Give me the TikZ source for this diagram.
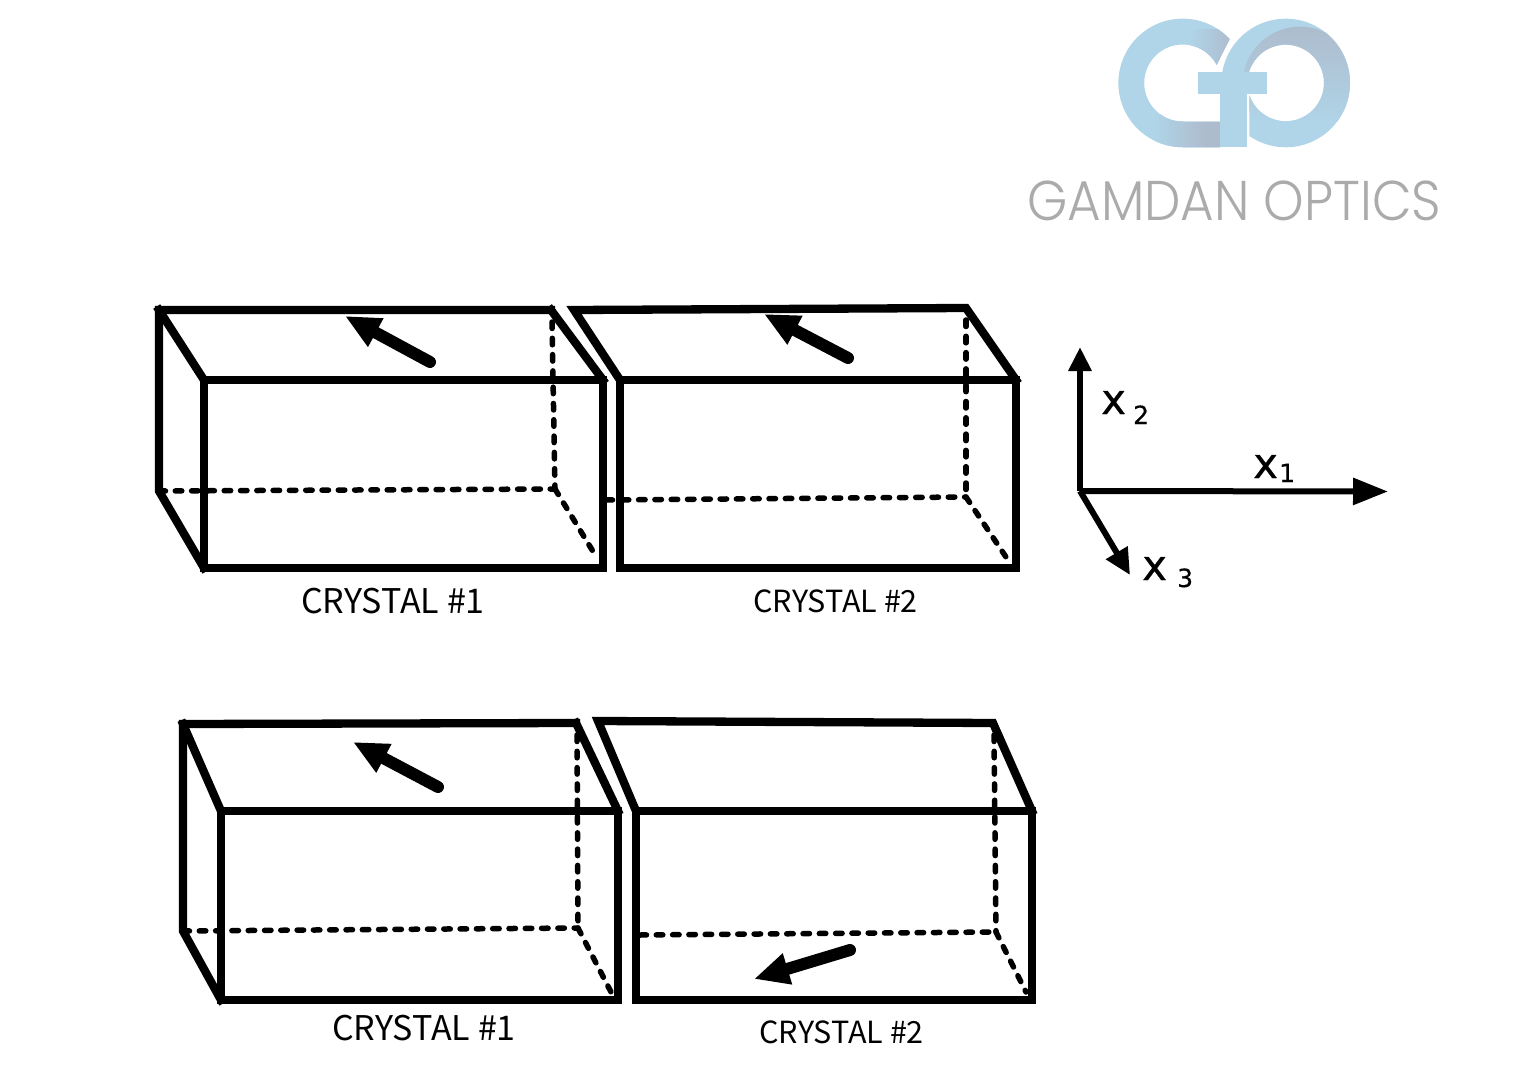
\documentclass[tikz,border=0pt]{standalone}
\usepackage{fontspec}
\usetikzlibrary{arrows.meta}
\setmainfont{Noto Sans CJK SC}
\newfontfamily\logofont[UprightFont=* Light]{Poppins}
\newfontfamily\axisfont[FakeBold=0.5]{DejaVu Sans}
\definecolor{logoblue}{HTML}{B0D4E8}
\definecolor{logogrey}{HTML}{ADBCCD}
\definecolor{logotext}{HTML}{ABABAB}
\tikzset{
  solidedge/.style={line width=8.3pt,line join=miter,line cap=rect},
  hiddenedge/.style={line width=5.5pt,line cap=round,dash pattern=on 6.5pt off 9.8pt},
  polar/.style={line width=12pt,line cap=round,-{Triangle[length=35pt,width=30pt]}},
  axisline/.style={line width=6pt},
  lbl/.style={anchor=base west,inner sep=0pt,text=black},
  bigl/.style={lbl,font=\fontsize{34}{34}\selectfont},
  smalll/.style={lbl,font=\fontsize{30.5}{30.5}\selectfont},
  axl/.style={lbl,font=\axisfont\fontsize{42}{42}\selectfont},
  axs/.style={lbl,font=\axisfont\fontsize{25}{25}\selectfont},
}
\begin{document}
\begin{tikzpicture}[x=1pt,y=-1pt]
\useasboundingbox[fill=white] (0,0) rectangle (1521,1075);

% logo
\def\ringL{(1229.7,39.1) arc[start angle=43,end angle=270,radius=64.3pt] -- (1220,147.3) -- (1220,121.7) -- (1182.7,121.5) arc[start angle=270,end angle=28,radius=38.5pt] -- cycle}
\def\ringR{(1221.4,83) arc[start angle=180,end angle=-124.4,radius=64.3pt] -- (1249.4,95.2) arc[start angle=-161.4,end angle=180,radius=38.3pt] -- cycle}
\fill[logoblue] \ringL;
\begin{scope}
  \clip \ringL;
  \shade[left color=logoblue,right color=logogrey] (1155,115) rectangle (1205,150);
  \fill[logogrey] (1205,115) rectangle (1222,150);
  \shade[left color=logoblue,right color=logogrey] (1190,30) rectangle (1232,70);
\end{scope}
\fill[logoblue] \ringR;
\begin{scope}
  \clip \ringR;
  \clip (1300,84) circle[radius=57.3pt];
  \shade[top color=logogrey,bottom color=logoblue] (1230,27) rectangle (1355,122);
\end{scope}
\fill[logoblue] (1220,83) rectangle (1246.7,147);
\fill[logoblue] (1197.7,72.3) rectangle (1266.7,94.3);
\node[anchor=base west,inner sep=0pt,text=logotext,font=\logofont\fontsize{56}{56}\selectfont] (logotext) at (1027,221) {\scalebox{0.92}[1]{GAMDAN OPTICS}};

% upper crystal 1
\coordinate (a1) at (204,380); \coordinate (a2) at (603,380);
\coordinate (a3) at (603,568); \coordinate (a4) at (204,568);
\coordinate (a5) at (159,310); \coordinate (a6) at (551,310);
\coordinate (a7) at (159,491); \coordinate (a8) at (555,489);
\coordinate (a6d) at (552,322); \coordinate (a3d) at (597,558);
\draw[hiddenedge] (a7) -- (a8);
\draw[hiddenedge] (a6d) -- (a8);
\draw[hiddenedge] (a8) -- (a3d);
\draw[solidedge] (a1) -- (a2) -- (a3) -- (a4) -- cycle;
\draw[solidedge] (a6) -- (a5) -- (a7) -- (a4);
\draw[solidedge] (a5) -- (a1);
\draw[solidedge] (a6) -- (a2);

% upper crystal 2
\coordinate (b1) at (620,380); \coordinate (b2) at (1016,380);
\coordinate (b3) at (1016,568); \coordinate (b4) at (620,568);
\coordinate (b5) at (574,310); \coordinate (b6) at (966,308);
\coordinate (b7) at (606,500); \coordinate (b8) at (966,497);
\coordinate (b6d) at (966,320); \coordinate (b3d) at (1008,560);
\draw[hiddenedge] (b7) -- (b8);
\draw[hiddenedge] (b6d) -- (b8);
\draw[hiddenedge] (b8) -- (b3d);
\draw[solidedge] (b1) -- (b2) -- (b3) -- (b4) -- cycle;
\draw[solidedge] (b1) -- (b5) -- (b6) -- (b2);

% lower crystal 1
\coordinate (c1) at (221,811); \coordinate (c2) at (618,811);
\coordinate (c3) at (618,1000); \coordinate (c4) at (221,1000);
\coordinate (c5) at (183,724); \coordinate (c6) at (576,723);
\coordinate (c7) at (183,931); \coordinate (c8) at (578,928);
\coordinate (c6d) at (577,735); \coordinate (c3d) at (611,992);
\draw[hiddenedge] (c7) -- (c8);
\draw[hiddenedge] (c6d) -- (c8);
\draw[hiddenedge] (c8) -- (c3d);
\draw[solidedge] (c1) -- (c2) -- (c3) -- (c4) -- cycle;
\draw[solidedge] (c6) -- (c5) -- (c7) -- (c4);
\draw[solidedge] (c5) -- (c1);
\draw[solidedge] (c6) -- (c2);

% lower crystal 2
\coordinate (d1) at (636,811); \coordinate (d2) at (1032,811);
\coordinate (d3) at (1032,1000); \coordinate (d4) at (636,1000);
\coordinate (d5) at (598,721); \coordinate (d6) at (993,723);
\coordinate (d7) at (640,935); \coordinate (d8) at (996,932);
\coordinate (d6d) at (994,735); \coordinate (d3d) at (1026,992);
\draw[hiddenedge] (d7) -- (d8);
\draw[hiddenedge] (d6d) -- (d8);
\draw[hiddenedge] (d8) -- (d3d);
\draw[solidedge] (d1) -- (d2) -- (d3) -- (d4) -- cycle;
\draw[solidedge] (d1) -- (d5) -- (d6) -- (d2);

% polarization arrows
\coordinate (p1s) at (430,362); \coordinate (p1e) at (345,316);
\coordinate (p2s) at (848,358); \coordinate (p2e) at (764,314);
\coordinate (p3s) at (438,787); \coordinate (p3e) at (353,742);
\coordinate (p4s) at (850,950); \coordinate (p4e) at (754,979);
\draw[polar] (p1s) -- (p1e);
\draw[polar] (p2s) -- (p2e);
\draw[polar] (p3s) -- (p3e);
\draw[polar] (p4s) -- (p4e);

% axes
\coordinate (o) at (1080,491);
\coordinate (x1t) at (1388,491.5);
\coordinate (x2t) at (1080,347);
\coordinate (x3t) at (1130,575);
\draw[axisline,-{Triangle[length=35pt,width=26pt]}] (o) -- (x1t);
\draw[axisline,-{Triangle[length=24pt,width=22pt]}] (o) -- (x2t);
\draw[axisline,-{Triangle[length=26pt,width=24pt]}] (o) -- (x3t);

% labels
\node[axl] (lx1) at (1253,478) {x};
\node[axs] (lx1s) at (1279,482) {1};
\node[axl] (lx2) at (1101,414) {x};
\node[axs] (lx2s) at (1133,424) {2};
\node[axl] (lx3) at (1142,580) {x};
\node[axs] (lx3s) at (1177,587) {3};
\node[bigl] (t1) at (301,613) {CRYSTAL \#1};
\node[smalll] (t2) at (753,612) {CRYSTAL \#2};
\node[bigl] (t3) at (332,1040) {CRYSTAL \#1};
\node[smalll] (t4) at (759,1043) {CRYSTAL \#2};
\end{tikzpicture}
\end{document}
